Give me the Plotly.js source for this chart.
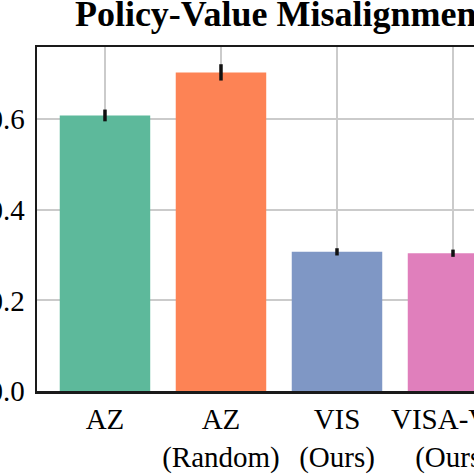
<!DOCTYPE html>
<html>
<head>
<meta charset="utf-8">
<script src="https://cdn.plot.ly/plotly-3.0.1.min.js"></script>
<style>
  html, body { margin: 0; padding: 0; background: #ffffff; }
  #chart { width: 474px; height: 474px; }
</style>
</head>
<body>
<div id="chart"></div>
<script>
// Methods compared
const methods = ["AZ", "AZ (Random)", "VIS (Ours)", "VISA-VIS (Ours)"];
// Tick labels, broken onto two lines
const tickLabels = ["AZ", "AZ<br>(Random)", "VIS<br>(Ours)", "VISA-VIS<br>(Ours)"];
// Mean misalignment and its error
const misalignment = [0.608, 0.703, 0.307, 0.304];
const misalignmentErr = [0.013, 0.018, 0.008, 0.008];
const barColors = ["#5db99b", "#fd8355", "#7f97c5", "#e07fbc"];

const yTicks = [0.0, 0.2, 0.4, 0.6];

const serif = "Liberation Serif, Times New Roman, serif";

const bars = {
  type: "bar",
  x: methods,
  y: misalignment,
  width: 0.78,
  marker: { color: barColors, line: { width: 0 } },
  error_y: {
    type: "data",
    array: misalignmentErr,
    visible: true,
    color: "#111111",
    thickness: 3.5,
    width: 0
  },
  hoverinfo: "none"
};

const layout = {
  width: 474,
  height: 474,
  paper_bgcolor: "#ffffff",
  plot_bgcolor: "#ffffff",
  margin: { l: 37, r: 0, t: 47, b: 83, pad: 0 },
  showlegend: false,
  title: {
    text: "<b>Policy-Value Misalignment</b>",
    font: { family: serif, size: 36, color: "#000000" },
    xref: "container",
    x: 0.158,
    xanchor: "left",
    yref: "container",
    y: 0.998,
    yanchor: "top"
  },
  xaxis: {
    type: "category",
    categoryorder: "array",
    categoryarray: methods,
    range: [-0.586, 3.181],
    tickmode: "array",
    tickvals: methods,
    ticktext: tickLabels,
    ticks: "",
    ticklabelstandoff: 1,
    tickfont: { family: serif, size: 29, color: "#000000" },
    showgrid: true,
    gridcolor: "#cbcbcb",
    gridwidth: 2,
    showline: true,
    linecolor: "#1a1a1a",
    linewidth: 2.5,
    mirror: true,
    zeroline: false,
    automargin: false,
    fixedrange: true
  },
  yaxis: {
    range: [0, 0.759],
    tickmode: "array",
    tickvals: yTicks,
    ticktext: yTicks.map(v => v.toFixed(1)),
    ticks: "",
    ticklabelstandoff: 4,
    tickfont: { family: serif, size: 29, color: "#000000" },
    showgrid: true,
    gridcolor: "#cbcbcb",
    gridwidth: 2,
    showline: true,
    linecolor: "#1a1a1a",
    linewidth: 2.5,
    mirror: false,
    zeroline: false,
    automargin: false,
    fixedrange: true
  }
};

Plotly.newPlot("chart", [bars], layout, { displayModeBar: false, staticPlot: true });
</script>
</body>
</html>
